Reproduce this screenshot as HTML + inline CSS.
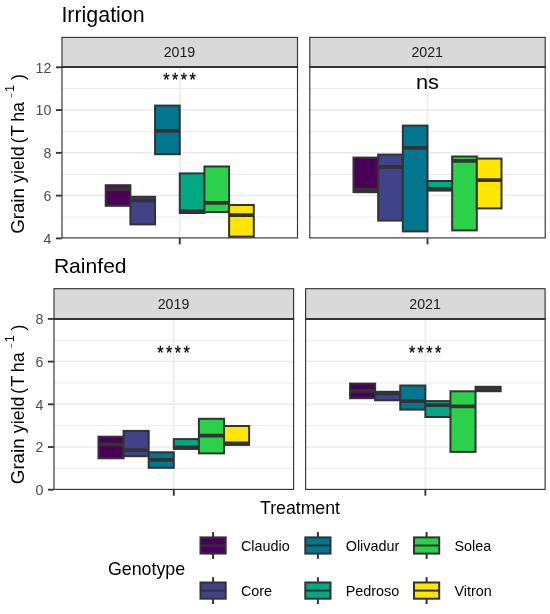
<!DOCTYPE html>
<html lang="en"><head><meta charset="utf-8"><title>Grain yield by genotype</title>
<style>html,body{margin:0;padding:0;background:#fff}body{width:550px;height:614px;overflow:hidden}svg{display:block}</style>
</head><body>
<svg width="550" height="614" viewBox="0 0 550 614" font-family='"Liberation Sans", Arial, Helvetica, sans-serif'>
<rect x="0" y="0" width="550" height="614" fill="#ffffff"/>
<text x="61.4" y="21.9" font-size="21.4" fill="#000">Irrigation</text>
<rect x="62.0" y="67.3" width="235.5" height="171.10000000000002" fill="#fff"/>
<line x1="62.0" x2="297.5" y1="217.01" y2="217.01" stroke="#ebebeb" stroke-width="1.0"/>
<line x1="62.0" x2="297.5" y1="195.62" y2="195.62" stroke="#ebebeb" stroke-width="1.5"/>
<line x1="62.0" x2="297.5" y1="174.24" y2="174.24" stroke="#ebebeb" stroke-width="1.0"/>
<line x1="62.0" x2="297.5" y1="152.85" y2="152.85" stroke="#ebebeb" stroke-width="1.5"/>
<line x1="62.0" x2="297.5" y1="131.46" y2="131.46" stroke="#ebebeb" stroke-width="1.0"/>
<line x1="62.0" x2="297.5" y1="110.07" y2="110.07" stroke="#ebebeb" stroke-width="1.5"/>
<line x1="62.0" x2="297.5" y1="88.69" y2="88.69" stroke="#ebebeb" stroke-width="1.0"/>
<line x1="179.75" x2="179.75" y1="67.3" y2="238.4" stroke="#ebebeb" stroke-width="1.5"/>
<clipPath id="c1"><rect x="62.0" y="67.3" width="235.5" height="171.10000000000002"/></clipPath>
<g clip-path="url(#c1)">
<rect x="105.71" y="185.20" width="24.68" height="20.60" fill="#4a0059" stroke="#333333" stroke-width="2.0"/>
<line x1="105.71" x2="130.39" y1="189.00" y2="189.00" stroke="#333333" stroke-width="3.8"/>
<rect x="130.39" y="196.80" width="24.68" height="27.60" fill="#40428a" stroke="#333333" stroke-width="2.0"/>
<line x1="130.39" x2="155.07" y1="200.40" y2="200.40" stroke="#333333" stroke-width="3.8"/>
<rect x="155.07" y="105.60" width="24.68" height="48.60" fill="#00778f" stroke="#333333" stroke-width="2.0"/>
<line x1="155.07" x2="179.75" y1="130.80" y2="130.80" stroke="#333333" stroke-width="3.8"/>
<rect x="179.75" y="173.40" width="24.68" height="39.60" fill="#00a884" stroke="#333333" stroke-width="2.0"/>
<line x1="179.75" x2="204.43" y1="211.30" y2="211.30" stroke="#333333" stroke-width="3.8"/>
<rect x="204.43" y="166.50" width="24.68" height="45.60" fill="#2bd14b" stroke="#333333" stroke-width="2.0"/>
<line x1="204.43" x2="229.11" y1="202.80" y2="202.80" stroke="#333333" stroke-width="3.8"/>
<rect x="229.11" y="205.00" width="24.68" height="31.60" fill="#ffe600" stroke="#333333" stroke-width="2.0"/>
<line x1="229.11" x2="253.79" y1="215.20" y2="215.20" stroke="#333333" stroke-width="3.8"/>
</g>
<text transform="translate(163.30,86.00) scale(0.85,1)" font-size="19" letter-spacing="2.85" fill="#000" stroke="#000" stroke-width="0.3">****</text>
<rect x="62.0" y="67.3" width="235.5" height="170.60" fill="none" stroke="#333333" stroke-width="1.15"/>
<rect x="62.0" y="37.4" width="235.5" height="29.9" fill="#d9d9d9" stroke="#333333" stroke-width="1.15"/>
<line x1="61.45" x2="298.05" y1="67.05" y2="67.05" stroke="#333333" stroke-width="1.95"/>
<text x="179.45" y="56.75" font-size="14.2" text-anchor="middle" fill="#1a1a1a">2019</text>
<line x1="179.75" x2="179.75" y1="238.1" y2="244.4" stroke="#333333" stroke-width="1.85"/>
<line x1="55.9" x2="61.8" y1="238.40" y2="238.40" stroke="#333333" stroke-width="1.85"/>
<text x="51.40" y="243.65" font-size="14.2" text-anchor="end" fill="#4d4d4d">4</text>
<line x1="55.9" x2="61.8" y1="195.62" y2="195.62" stroke="#333333" stroke-width="1.85"/>
<text x="51.40" y="200.88" font-size="14.2" text-anchor="end" fill="#4d4d4d">6</text>
<line x1="55.9" x2="61.8" y1="152.85" y2="152.85" stroke="#333333" stroke-width="1.85"/>
<text x="51.40" y="158.10" font-size="14.2" text-anchor="end" fill="#4d4d4d">8</text>
<line x1="55.9" x2="61.8" y1="110.07" y2="110.07" stroke="#333333" stroke-width="1.85"/>
<text x="51.40" y="115.32" font-size="14.2" text-anchor="end" fill="#4d4d4d">10</text>
<line x1="55.9" x2="61.8" y1="67.30" y2="67.30" stroke="#333333" stroke-width="1.85"/>
<text x="51.40" y="72.55" font-size="14.2" text-anchor="end" fill="#4d4d4d">12</text>
<rect x="309.8" y="67.3" width="235.40000000000003" height="171.10000000000002" fill="#fff"/>
<line x1="309.8" x2="545.2" y1="217.01" y2="217.01" stroke="#ebebeb" stroke-width="1.0"/>
<line x1="309.8" x2="545.2" y1="195.62" y2="195.62" stroke="#ebebeb" stroke-width="1.5"/>
<line x1="309.8" x2="545.2" y1="174.24" y2="174.24" stroke="#ebebeb" stroke-width="1.0"/>
<line x1="309.8" x2="545.2" y1="152.85" y2="152.85" stroke="#ebebeb" stroke-width="1.5"/>
<line x1="309.8" x2="545.2" y1="131.46" y2="131.46" stroke="#ebebeb" stroke-width="1.0"/>
<line x1="309.8" x2="545.2" y1="110.07" y2="110.07" stroke="#ebebeb" stroke-width="1.5"/>
<line x1="309.8" x2="545.2" y1="88.69" y2="88.69" stroke="#ebebeb" stroke-width="1.0"/>
<line x1="427.50" x2="427.50" y1="67.3" y2="238.4" stroke="#ebebeb" stroke-width="1.5"/>
<clipPath id="c2"><rect x="309.8" y="67.3" width="235.40000000000003" height="171.10000000000002"/></clipPath>
<g clip-path="url(#c2)">
<rect x="353.50" y="157.60" width="24.67" height="34.60" fill="#4a0059" stroke="#333333" stroke-width="2.0"/>
<line x1="353.50" x2="378.16" y1="189.60" y2="189.60" stroke="#333333" stroke-width="3.8"/>
<rect x="378.16" y="154.60" width="24.67" height="66.00" fill="#40428a" stroke="#333333" stroke-width="2.0"/>
<line x1="378.16" x2="402.83" y1="167.00" y2="167.00" stroke="#333333" stroke-width="3.8"/>
<rect x="402.83" y="125.60" width="24.67" height="105.80" fill="#00778f" stroke="#333333" stroke-width="2.0"/>
<line x1="402.83" x2="427.50" y1="147.80" y2="147.80" stroke="#333333" stroke-width="3.8"/>
<rect x="427.50" y="181.00" width="24.67" height="9.60" fill="#00a884" stroke="#333333" stroke-width="2.0"/>
<line x1="427.50" x2="452.17" y1="188.90" y2="188.90" stroke="#333333" stroke-width="3.8"/>
<rect x="452.17" y="156.50" width="24.67" height="73.90" fill="#2bd14b" stroke="#333333" stroke-width="2.0"/>
<line x1="452.17" x2="476.84" y1="160.80" y2="160.80" stroke="#333333" stroke-width="3.8"/>
<rect x="476.84" y="158.60" width="24.67" height="49.80" fill="#ffe600" stroke="#333333" stroke-width="2.0"/>
<line x1="476.84" x2="501.50" y1="180.10" y2="180.10" stroke="#333333" stroke-width="3.8"/>
</g>
<text transform="translate(427.50,89.0) scale(1.065,1)" font-size="20.5" text-anchor="middle" fill="#000">ns</text>
<rect x="309.8" y="67.3" width="235.40000000000003" height="170.60" fill="none" stroke="#333333" stroke-width="1.15"/>
<rect x="309.8" y="37.4" width="235.40000000000003" height="29.9" fill="#d9d9d9" stroke="#333333" stroke-width="1.15"/>
<line x1="309.25" x2="545.75" y1="67.05" y2="67.05" stroke="#333333" stroke-width="1.95"/>
<text x="427.20" y="56.75" font-size="14.2" text-anchor="middle" fill="#1a1a1a">2021</text>
<line x1="427.50" x2="427.50" y1="238.1" y2="244.4" stroke="#333333" stroke-width="1.85"/>
<text x="53.9" y="272.5" font-size="21.1" fill="#000">Rainfed</text>
<rect x="54.0" y="318.9" width="239.60000000000002" height="170.8" fill="#fff"/>
<line x1="54.0" x2="293.6" y1="468.35" y2="468.35" stroke="#ebebeb" stroke-width="1.0"/>
<line x1="54.0" x2="293.6" y1="447.00" y2="447.00" stroke="#ebebeb" stroke-width="1.5"/>
<line x1="54.0" x2="293.6" y1="425.65" y2="425.65" stroke="#ebebeb" stroke-width="1.0"/>
<line x1="54.0" x2="293.6" y1="404.30" y2="404.30" stroke="#ebebeb" stroke-width="1.5"/>
<line x1="54.0" x2="293.6" y1="382.95" y2="382.95" stroke="#ebebeb" stroke-width="1.0"/>
<line x1="54.0" x2="293.6" y1="361.60" y2="361.60" stroke="#ebebeb" stroke-width="1.5"/>
<line x1="54.0" x2="293.6" y1="340.25" y2="340.25" stroke="#ebebeb" stroke-width="1.0"/>
<line x1="173.80" x2="173.80" y1="318.9" y2="489.7" stroke="#ebebeb" stroke-width="1.5"/>
<clipPath id="c3"><rect x="54.0" y="318.9" width="239.60000000000002" height="170.8"/></clipPath>
<g clip-path="url(#c3)">
<rect x="98.48" y="436.70" width="25.11" height="21.60" fill="#4a0059" stroke="#333333" stroke-width="2.0"/>
<line x1="98.48" x2="123.58" y1="444.40" y2="444.40" stroke="#333333" stroke-width="3.8"/>
<rect x="123.58" y="430.90" width="25.11" height="25.30" fill="#40428a" stroke="#333333" stroke-width="2.0"/>
<line x1="123.58" x2="148.69" y1="450.10" y2="450.10" stroke="#333333" stroke-width="3.8"/>
<rect x="148.69" y="452.30" width="25.11" height="15.50" fill="#00778f" stroke="#333333" stroke-width="2.0"/>
<line x1="148.69" x2="173.80" y1="459.90" y2="459.90" stroke="#333333" stroke-width="3.8"/>
<rect x="173.80" y="439.10" width="25.11" height="9.80" fill="#00a884" stroke="#333333" stroke-width="2.0"/>
<line x1="173.80" x2="198.91" y1="447.40" y2="447.40" stroke="#333333" stroke-width="3.8"/>
<rect x="198.91" y="418.80" width="25.11" height="34.60" fill="#2bd14b" stroke="#333333" stroke-width="2.0"/>
<line x1="198.91" x2="224.02" y1="435.60" y2="435.60" stroke="#333333" stroke-width="3.8"/>
<rect x="224.02" y="426.00" width="25.11" height="18.90" fill="#ffe600" stroke="#333333" stroke-width="2.0"/>
<line x1="224.02" x2="249.12" y1="443.30" y2="443.30" stroke="#333333" stroke-width="3.8"/>
</g>
<text transform="translate(157.35,359.20) scale(0.85,1)" font-size="19" letter-spacing="2.85" fill="#000" stroke="#000" stroke-width="0.3">****</text>
<rect x="54.0" y="318.9" width="239.60000000000002" height="170.50" fill="none" stroke="#333333" stroke-width="1.15"/>
<rect x="54.0" y="288.7" width="239.60000000000002" height="30.19999999999999" fill="#d9d9d9" stroke="#333333" stroke-width="1.15"/>
<line x1="53.45" x2="294.15000000000003" y1="318.90" y2="318.90" stroke="#333333" stroke-width="1.95"/>
<text x="173.50" y="308.75" font-size="14.2" text-anchor="middle" fill="#1a1a1a">2019</text>
<line x1="173.80" x2="173.80" y1="489.4" y2="495.7" stroke="#333333" stroke-width="1.85"/>
<line x1="47.9" x2="53.8" y1="489.70" y2="489.70" stroke="#333333" stroke-width="1.85"/>
<text x="43.40" y="494.95" font-size="14.2" text-anchor="end" fill="#4d4d4d">0</text>
<line x1="47.9" x2="53.8" y1="447.00" y2="447.00" stroke="#333333" stroke-width="1.85"/>
<text x="43.40" y="452.25" font-size="14.2" text-anchor="end" fill="#4d4d4d">2</text>
<line x1="47.9" x2="53.8" y1="404.30" y2="404.30" stroke="#333333" stroke-width="1.85"/>
<text x="43.40" y="409.55" font-size="14.2" text-anchor="end" fill="#4d4d4d">4</text>
<line x1="47.9" x2="53.8" y1="361.60" y2="361.60" stroke="#333333" stroke-width="1.85"/>
<text x="43.40" y="366.85" font-size="14.2" text-anchor="end" fill="#4d4d4d">6</text>
<line x1="47.9" x2="53.8" y1="318.90" y2="318.90" stroke="#333333" stroke-width="1.85"/>
<text x="43.40" y="324.15" font-size="14.2" text-anchor="end" fill="#4d4d4d">8</text>
<rect x="305.6" y="318.9" width="239.5" height="170.8" fill="#fff"/>
<line x1="305.6" x2="545.1" y1="468.35" y2="468.35" stroke="#ebebeb" stroke-width="1.0"/>
<line x1="305.6" x2="545.1" y1="447.00" y2="447.00" stroke="#ebebeb" stroke-width="1.5"/>
<line x1="305.6" x2="545.1" y1="425.65" y2="425.65" stroke="#ebebeb" stroke-width="1.0"/>
<line x1="305.6" x2="545.1" y1="404.30" y2="404.30" stroke="#ebebeb" stroke-width="1.5"/>
<line x1="305.6" x2="545.1" y1="382.95" y2="382.95" stroke="#ebebeb" stroke-width="1.0"/>
<line x1="305.6" x2="545.1" y1="361.60" y2="361.60" stroke="#ebebeb" stroke-width="1.5"/>
<line x1="305.6" x2="545.1" y1="340.25" y2="340.25" stroke="#ebebeb" stroke-width="1.0"/>
<line x1="425.35" x2="425.35" y1="318.9" y2="489.7" stroke="#ebebeb" stroke-width="1.5"/>
<clipPath id="c4"><rect x="305.6" y="318.9" width="239.5" height="170.8"/></clipPath>
<g clip-path="url(#c4)">
<rect x="350.06" y="383.60" width="25.10" height="14.60" fill="#4a0059" stroke="#333333" stroke-width="2.0"/>
<line x1="350.06" x2="375.15" y1="390.80" y2="390.80" stroke="#333333" stroke-width="3.8"/>
<rect x="375.15" y="391.80" width="25.10" height="8.50" fill="#40428a" stroke="#333333" stroke-width="2.0"/>
<line x1="375.15" x2="400.25" y1="393.40" y2="393.40" stroke="#333333" stroke-width="3.8"/>
<rect x="400.25" y="385.50" width="25.10" height="24.10" fill="#00778f" stroke="#333333" stroke-width="2.0"/>
<line x1="400.25" x2="425.35" y1="401.10" y2="401.10" stroke="#333333" stroke-width="3.8"/>
<rect x="425.35" y="401.10" width="25.10" height="15.90" fill="#00a884" stroke="#333333" stroke-width="2.0"/>
<line x1="425.35" x2="450.45" y1="405.20" y2="405.20" stroke="#333333" stroke-width="3.8"/>
<rect x="450.45" y="391.30" width="25.10" height="60.60" fill="#2bd14b" stroke="#333333" stroke-width="2.0"/>
<line x1="450.45" x2="475.55" y1="406.30" y2="406.30" stroke="#333333" stroke-width="3.8"/>
<rect x="475.55" y="386.80" width="25.10" height="4.40" fill="#ffe600" stroke="#333333" stroke-width="2.0"/>
<line x1="475.55" x2="500.64" y1="389.00" y2="389.00" stroke="#333333" stroke-width="3.8"/>
</g>
<text transform="translate(408.90,359.20) scale(0.85,1)" font-size="19" letter-spacing="2.85" fill="#000" stroke="#000" stroke-width="0.3">****</text>
<rect x="305.6" y="318.9" width="239.5" height="170.50" fill="none" stroke="#333333" stroke-width="1.15"/>
<rect x="305.6" y="288.7" width="239.5" height="30.19999999999999" fill="#d9d9d9" stroke="#333333" stroke-width="1.15"/>
<line x1="305.05" x2="545.65" y1="318.90" y2="318.90" stroke="#333333" stroke-width="1.95"/>
<text x="425.05" y="308.75" font-size="14.2" text-anchor="middle" fill="#1a1a1a">2021</text>
<line x1="425.35" x2="425.35" y1="489.4" y2="495.7" stroke="#333333" stroke-width="1.85"/>
<g transform="translate(24.0,233.6) rotate(-90)" fill="#000">
<text transform="translate(-0.25,0) scale(1.05,1)" font-size="17.8">Grain</text>
<text x="50.7" y="0" font-size="17.8">yield</text>
<text transform="translate(90.0,0) scale(1.05,1)" font-size="17.8">(</text>
<text transform="translate(96.9,0) scale(1.05,1)" font-size="17.8">T</text>
<text x="111.77" y="0" font-size="17.8">ha</text>
<text x="135.9" y="-10.2" font-size="8.5">−</text>
<text x="141.6" y="-9.6" font-size="12.8">1</text>
<text x="153.5" y="0" font-size="17.8"> )</text>
</g>
<g transform="translate(24.0,483.9) rotate(-90)" fill="#000">
<text transform="translate(-0.25,0) scale(1.05,1)" font-size="17.8">Grain</text>
<text x="50.7" y="0" font-size="17.8">yield</text>
<text transform="translate(90.0,0) scale(1.05,1)" font-size="17.8">(</text>
<text transform="translate(96.9,0) scale(1.05,1)" font-size="17.8">T</text>
<text x="111.77" y="0" font-size="17.8">ha</text>
<text x="135.9" y="-10.2" font-size="8.5">−</text>
<text x="141.6" y="-9.6" font-size="12.8">1</text>
<text x="153.5" y="0" font-size="17.8"> )</text>
</g>
<text x="300.0" y="514.2" font-size="17.7" text-anchor="middle" fill="#000">Treatment</text>
<text x="108.0" y="574.5" font-size="17.8" fill="#000">Genotype</text>
<line x1="213.1" x2="213.1" y1="532.1" y2="558.9" stroke="#333333" stroke-width="2.0"/>
<rect x="200.50" y="537.40" width="25.2" height="16.2" fill="#4a0059" stroke="#333333" stroke-width="2.0"/>
<line x1="200.50" x2="225.70" y1="545.5" y2="545.5" stroke="#333333" stroke-width="2.0"/>
<text x="240.90" y="550.70" font-size="14.4" fill="#000">Claudio</text>
<line x1="213.1" x2="213.1" y1="577.2" y2="604.0" stroke="#333333" stroke-width="2.0"/>
<rect x="200.50" y="582.50" width="25.2" height="16.2" fill="#40428a" stroke="#333333" stroke-width="2.0"/>
<line x1="200.50" x2="225.70" y1="590.6" y2="590.6" stroke="#333333" stroke-width="2.0"/>
<text x="240.90" y="595.80" font-size="14.4" fill="#000">Core</text>
<line x1="317.9" x2="317.9" y1="532.1" y2="558.9" stroke="#333333" stroke-width="2.0"/>
<rect x="305.30" y="537.40" width="25.2" height="16.2" fill="#00778f" stroke="#333333" stroke-width="2.0"/>
<line x1="305.30" x2="330.50" y1="545.5" y2="545.5" stroke="#333333" stroke-width="2.0"/>
<text x="345.70" y="550.70" font-size="14.4" fill="#000">Olivadur</text>
<line x1="317.9" x2="317.9" y1="577.2" y2="604.0" stroke="#333333" stroke-width="2.0"/>
<rect x="305.30" y="582.50" width="25.2" height="16.2" fill="#00a884" stroke="#333333" stroke-width="2.0"/>
<line x1="305.30" x2="330.50" y1="590.6" y2="590.6" stroke="#333333" stroke-width="2.0"/>
<text x="345.70" y="595.80" font-size="14.4" fill="#000">Pedroso</text>
<line x1="426.6" x2="426.6" y1="532.1" y2="558.9" stroke="#333333" stroke-width="2.0"/>
<rect x="414.00" y="537.40" width="25.2" height="16.2" fill="#2bd14b" stroke="#333333" stroke-width="2.0"/>
<line x1="414.00" x2="439.20" y1="545.5" y2="545.5" stroke="#333333" stroke-width="2.0"/>
<text x="454.40" y="550.70" font-size="14.4" fill="#000">Solea</text>
<line x1="426.6" x2="426.6" y1="577.2" y2="604.0" stroke="#333333" stroke-width="2.0"/>
<rect x="414.00" y="582.50" width="25.2" height="16.2" fill="#ffe600" stroke="#333333" stroke-width="2.0"/>
<line x1="414.00" x2="439.20" y1="590.6" y2="590.6" stroke="#333333" stroke-width="2.0"/>
<text x="454.40" y="595.80" font-size="14.4" fill="#000">Vitron</text>
</svg>
</body></html>
